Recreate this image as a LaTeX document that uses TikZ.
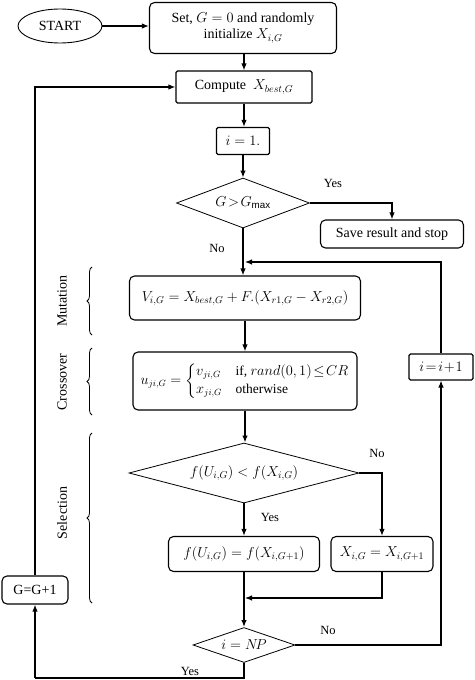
\documentclass[tikz,border=0pt]{standalone}
\usepackage{fontspec}
\setmainfont{Liberation Serif}
\newfontfamily\arialf{Liberation Sans}
\usepackage{amsmath}
\usetikzlibrary{shapes.geometric,arrows.meta,decorations.pathreplacing}
\begin{document}
\begin{tikzpicture}[x=1pt,y=-1pt,
  every node/.style={font=\fontsize{14}{16}\selectfont, inner sep=0pt},
  boxr/.style={draw, rounded corners=5pt, line width=1.1pt, align=center},
  boxs/.style={draw, rounded corners=1.5pt, line width=1.1pt, align=center},
  dia/.style={draw, diamond, line width=0.8pt},
  arr/.style={-{Latex[length=7pt,width=5.5pt]}, line width=1.6pt},
  ln/.style={line width=1.6pt},
  thinarr/.style={-{Latex[length=7pt,width=5.5pt]}, line width=1.1pt},
  lbl/.style={font=\fontsize{12.5}{14}\selectfont},
  brc/.style={decorate, decoration={brace, amplitude=5pt}, line width=0.8pt}
]
\useasboundingbox (0,0) rectangle (474,680);

\node[draw, ellipse, line width=0.9pt, minimum width=84pt, minimum height=34pt] (start) at (60,26) {START};
\node[boxr, minimum width=187pt, minimum height=51pt] (set) at (243,28) {Set, $G=0$ and randomly\\ initialize $X_{i,G}$};
\node[boxs, minimum width=136pt, minimum height=32pt] (comp) at (244,87) {Compute\ \ $X_{best,G}$};
\node[boxs, minimum width=53pt, minimum height=27pt] (i1) at (243,141) {$i=1.$};
\node[dia, minimum width=133pt, minimum height=50pt, aspect=2.6] (d1) at (243,203) {\arialf $G\!>\!G_{\text{max}}$};
\node[boxr, minimum width=143pt, minimum height=28pt] (save) at (392,234) {Save result and stop};
\node[boxr, minimum width=231pt, minimum height=44pt] (mut) at (245,298) {$V_{i,G}=X_{best,G}+F.(X_{r1,G}-X_{r2,G})$};
\node[boxr, minimum width=224pt, minimum height=58pt, font=\fontsize{13.5}{15}\selectfont] (cross) at (245,381) {$u_{ji,G}=\begin{cases} v_{ji,G} & \text{if, } rand(0,1)\!\le\! CR\\ x_{ji,G} & \text{otherwise}\end{cases}$};
\node[boxs, minimum width=64pt, minimum height=26pt] (inc) at (441,367) {$i\!=\!i\!+\!1$};
\node[dia, minimum width=230pt, minimum height=60pt, aspect=3.8] (d2) at (244,473) {$f(U_{i,G})<f(X_{i,G})$};
\node[boxr, minimum width=151pt, minimum height=35pt] (left) at (244,554) {$f(U_{i,G})=f(X_{i,G+1})$};
\node[boxr, minimum width=102pt, minimum height=35pt] (right) at (382,554) {$X_{i,G}=X_{i,G+1}$};
\node[dia, minimum width=102pt, minimum height=35pt, aspect=2.9] (d3) at (244,645) {$i=N\!P$};
\node[boxr, minimum width=66pt, minimum height=28pt] (gg) at (35,590) {G=G+1};

\coordinate (j1) at (245,262);
\coordinate (j2) at (245,598);
\coordinate (bl) at (35,678);

\draw[arr] (start.east) -- (start.east -| set.west);
\draw[arr] (set.south -| comp.north) -- (comp.north);
\draw[arr] (comp.south) -- (comp.south |- i1.north);
\draw[arr] (i1.south) -- (d1.north);
\draw[arr] (d1.east) -| (save.north);
\draw[arr] (d1.south) -- (d1.south |- mut.north);
\draw[thinarr] (inc.north) |- (j1);
\draw[arr] (mut.south) -- (mut.south |- cross.north);
\draw[arr] (cross.south) -- (cross.south |- d2.north);
\draw[arr] (d2.east) -| (right.north);
\draw[arr] (d2.south) -- (left.north);
\draw[arr] (left.south) -- (d3.north);
\draw[thinarr] (right.south) |- (j2);
\draw[thinarr] (d3.east) -| (inc.south);
\draw[ln] (d3.south) |- (bl);
\draw[arr] (bl) -- (gg.south);
\draw[arr] (gg.north) |- (comp.west);

\node[lbl] (ly1) at (333,183) {Yes};
\node[lbl] (ln1) at (217,248) {No};
\node[lbl] (ln2) at (377,453) {No};
\node[lbl] (ly2) at (270,517) {Yes};
\node[lbl] (ln3) at (328,630) {No};
\node[lbl] (ly3) at (190,671) {Yes};

\draw[brc] (92,335) -- (92,267);
\draw[brc] (92,415) -- (92,348);
\draw[brc] (92,603) -- (92,433);
\node[lbl, font=\fontsize{14}{16}\selectfont, rotate=90] (tm) at (62,301) {Mutation};
\node[lbl, font=\fontsize{14}{16}\selectfont, rotate=90] (tc) at (62,382) {Crossover};
\node[lbl, font=\fontsize{14}{16}\selectfont, rotate=90] (ts) at (62,513) {Selection};
\end{tikzpicture}
\end{document}
